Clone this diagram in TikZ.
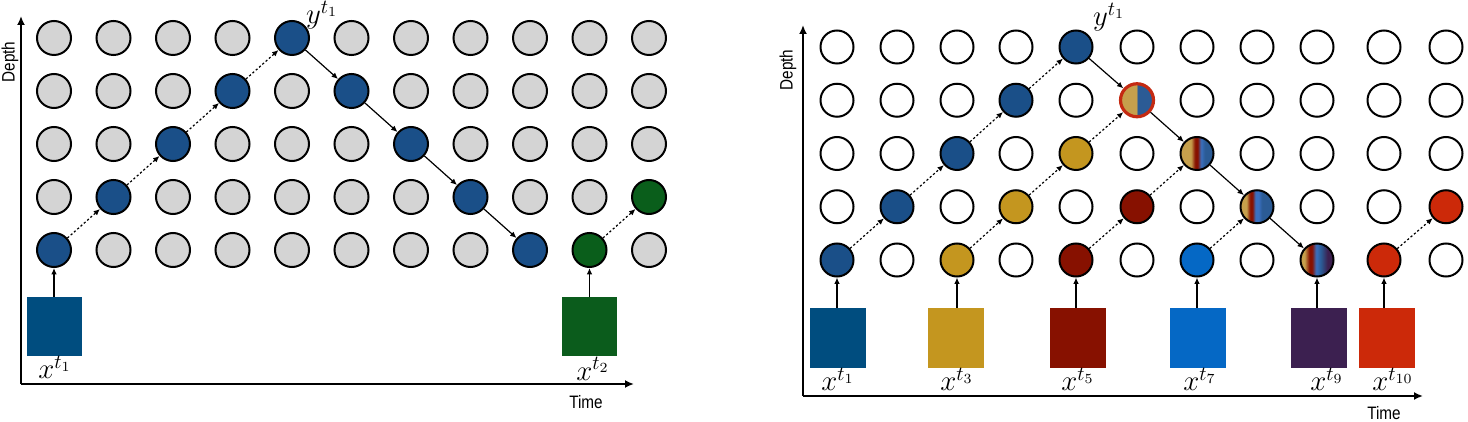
\documentclass[tikz,border=0pt]{standalone}
\usepackage{fontspec}
\setsansfont{Liberation Sans}
\usetikzlibrary{arrows.meta}
\definecolor{cgray}{HTML}{D4D4D4}
\definecolor{cblue}{HTML}{1A4F88}
\definecolor{sqblue}{HTML}{004D7F}
\definecolor{cgreen}{HTML}{0A5E1B}
\definecolor{sqgreen}{HTML}{0B5C1C}
\definecolor{cgold}{HTML}{C4961F}
\definecolor{cdred}{HTML}{871100}
\definecolor{cbblue}{HTML}{0568C5}
\definecolor{cpurple}{HTML}{3C2050}
\definecolor{cred}{HTML}{CC2909}
\definecolor{cborder}{HTML}{C42A12}
\definecolor{mgold}{HTML}{C6A04C}
\definecolor{mblue}{HTML}{2B5B95}
\definecolor{mblueb}{HTML}{3A70C0}
\definecolor{mgrey}{HTML}{6E6E66}
\pgfdeclarehorizontalshading{mixH}{100bp}{color(0bp)=(mgold); color(25bp)=(mgold); color(49.3bp)=(mgold); color(50bp)=(mgrey); color(50.7bp)=(mblue); color(75bp)=(mblue); color(100bp)=(mblue)}
\pgfdeclarehorizontalshading{mixA}{100bp}{color(0bp)=(mgold); color(25bp)=(mgold); color(41bp)=(mgold); color(47bp)=(cdred); color(51bp)=(cdred); color(56bp)=(mblueb); color(62bp)=(mblue); color(75bp)=(mblue); color(100bp)=(mblue)}
\pgfdeclarehorizontalshading{mixB}{100bp}{color(0bp)=(mgold); color(25bp)=(mgold); color(34bp)=(mgold); color(39.5bp)=(cdred); color(43bp)=(cdred); color(47.5bp)=(mblueb); color(52.5bp)=(mblueb); color(57.5bp)=(mblue); color(75bp)=(mblue); color(100bp)=(mblue)}
\pgfdeclarehorizontalshading{mixC}{100bp}{color(0bp)=(mgold); color(25bp)=(mgold); color(31bp)=(mgold); color(38.5bp)=(cdred); color(42.5bp)=(cdred); color(48.5bp)=(mblueb); color(56bp)=(mblue); color(66bp)=(cpurple); color(75bp)=(cpurple); color(100bp)=(cpurple)}
\tikzset{
  cellL/.style={circle, draw=black, line width=1pt, minimum size=17pt, inner sep=0pt, fill=cgray},
  cellR/.style={circle, draw=black, line width=1pt, minimum size=16.5pt, inner sep=0pt, fill=white},
  hlL-0-4/.style={fill=cblue}, hlL-1-3/.style={fill=cblue}, hlL-2-2/.style={fill=cblue},
  hlL-3-1/.style={fill=cblue}, hlL-4-0/.style={fill=cblue}, hlL-5-1/.style={fill=cblue},
  hlL-6-2/.style={fill=cblue}, hlL-7-3/.style={fill=cblue}, hlL-8-4/.style={fill=cblue},
  hlL-9-4/.style={fill=cgreen}, hlL-10-3/.style={fill=cgreen},
  hlR-0-4/.style={fill=cblue}, hlR-1-3/.style={fill=cblue}, hlR-2-2/.style={fill=cblue},
  hlR-3-1/.style={fill=cblue}, hlR-4-0/.style={fill=cblue},
  hlR-2-4/.style={fill=cgold}, hlR-3-3/.style={fill=cgold}, hlR-4-2/.style={fill=cgold},
  hlR-4-4/.style={fill=cdred}, hlR-5-3/.style={fill=cdred},
  hlR-6-4/.style={fill=cbblue},
  hlR-9-4/.style={fill=cred}, hlR-10-3/.style={fill=cred},
  hlR-5-1/.style={shade, shading=mixH, draw=cborder, line width=1.6pt},
  hlR-6-2/.style={shade, shading=mixA},
  hlR-7-3/.style={shade, shading=mixB},
  hlR-8-4/.style={shade, shading=mixC},
  dotarr/.style={line width=0.6pt, dash pattern=on 1.1pt off 1.1pt, -{Latex[length=3.2pt,width=2.8pt]}},
  solarr/.style={line width=0.6pt, -{Latex[length=3.2pt,width=2.8pt]}},
  uparr/.style={line width=0.7pt, -{Latex[length=3.2pt,width=2.8pt]}},
  axis/.style={line width=1pt, -{Latex[length=4.5pt,width=4pt]}},
  sqL/.style={rectangle, minimum width=27.5pt, minimum height=29.5pt, inner sep=0pt},
  sqR/.style={rectangle, minimum width=28pt, minimum height=30pt, inner sep=0pt},
  mlab/.style={font=\Large, inner sep=0pt, anchor=base},
  slab/.style={font=\sffamily\fontsize{9}{10}\selectfont, inner sep=0pt}
}
\begin{document}
\begin{tikzpicture}[x=0.5pt,y=-0.5pt]
\useasboundingbox (0,0) rectangle (1468,422);
% ---------------- left panel ----------------
\coordinate (LO) at (21,384);
\coordinate (LY) at (21,16);
\coordinate (LX) at (634,384);
\draw[axis] (LO) -- (LY);
\draw[axis] (LO) -- (LX);
\node[slab, rotate=90] (ldepth) at (10,62) {\scalebox{0.85}[1]{Depth}};
\node[slab] (ltime) at (586,402) {\scalebox{0.85}[1]{Time}};
\foreach \ri in {0,...,4}{
  \foreach \ci in {0,...,10}{
    \node[cellL, hlL-\ci-\ri/.try] (L-\ci-\ri) at ({54+59.5*\ci},{38+53*\ri}) {};
  }
}
\node[sqL, fill=sqblue] (sqL1) at (54.5,326.5) {};
\node[sqL, fill=sqgreen] (sqL2) at (589.5,327) {};
\draw[uparr] (L-0-4.south |- sqL1.north) -- (L-0-4.south);
\draw[uparr] (L-9-4.south |- sqL2.north) -- (L-9-4.south);
\foreach \a/\b in {L-0-4/L-1-3, L-1-3/L-2-2, L-2-2/L-3-1, L-3-1/L-4-0, L-9-4/L-10-3}
  \draw[dotarr] (\a) -- (\b);
\foreach \a/\b in {L-4-0/L-5-1, L-5-1/L-6-2, L-6-2/L-7-3, L-7-3/L-8-4}
  \draw[solarr] (\a) -- (\b);
\node[mlab] (lx1) at (55,379) {$x^{t_1}$};
\node[mlab] (lx2) at (593,380) {$x^{t_2}$};
\node[mlab] (ly1) at (322,24) {$y^{t_1}$};
% ---------------- right panel ----------------
\coordinate (RO) at (803,396);
\coordinate (RY) at (803,25);
\coordinate (RX) at (1423,396);
\draw[axis] (RO) -- (RY);
\draw[axis] (RO) -- (RX);
\node[slab, rotate=90] (rdepth) at (788,70) {\scalebox{0.85}[1]{Depth}};
\node[slab] (rtime) at (1384,413) {\scalebox{0.85}[1]{Time}};
\foreach \xx [count=\cj from 0] in {837,897,957,1016,1076,1137,1197,1257,1317,1384,1446}{
  \foreach \ri in {0,...,4}{
    \node[cellR, hlR-\cj-\ri/.try] (R-\cj-\ri) at (\xx,{47+53.25*\ri}) {};
  }
}
\node[sqR, fill=sqblue] (sqR1) at (837.5,338) {};
\node[sqR, fill=cgold] (sqR3) at (956,338) {};
\node[sqR, fill=cdred] (sqR5) at (1077.5,338) {};
\node[sqR, fill=cbblue] (sqR7) at (1197.5,338) {};
\node[sqR, fill=cpurple] (sqR9) at (1318.5,338.5) {};
\node[sqR, fill=cred] (sqR10) at (1387,338.5) {};
\foreach \s/\c in {sqR1/R-0-4, sqR3/R-2-4, sqR5/R-4-4, sqR7/R-6-4, sqR9/R-8-4, sqR10/R-9-4}
  \draw[uparr] (\c.south |- \s.north) -- (\c.south);
\foreach \a/\b in {R-0-4/R-1-3, R-1-3/R-2-2, R-2-2/R-3-1, R-3-1/R-4-0,
                   R-2-4/R-3-3, R-3-3/R-4-2, R-4-2/R-5-1,
                   R-4-4/R-5-3, R-5-3/R-6-2, R-6-4/R-7-3, R-9-4/R-10-3}
  \draw[dotarr] (\a) -- (\b);
\foreach \a/\b in {R-4-0/R-5-1, R-5-1/R-6-2, R-6-2/R-7-3, R-7-3/R-8-4}
  \draw[solarr] (\a) -- (\b);
\node[mlab] (rx1) at (838,391) {$x^{t_1}$};
\node[mlab] (rx3) at (957,391) {$x^{t_3}$};
\node[mlab] (rx5) at (1078,391) {$x^{t_5}$};
\node[mlab] (rx7) at (1200,391) {$x^{t_7}$};
\node[mlab] (rx9) at (1327,391) {$x^{t_9}$};
\node[mlab] (rx10) at (1393,391) {$x^{t_{10}}$};
\node[mlab] (ry1) at (1109,26) {$y^{t_1}$};
\end{tikzpicture}
\end{document}
